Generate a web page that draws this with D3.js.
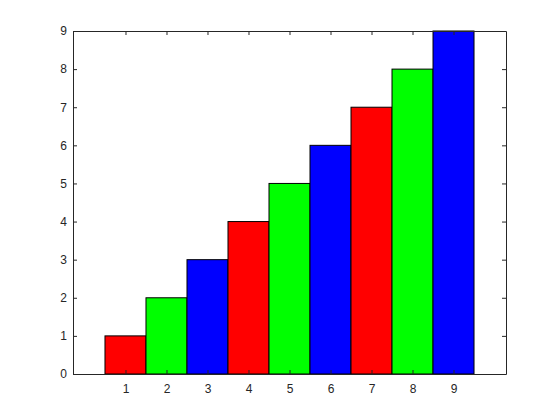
<!DOCTYPE html>
<html>
<head>
<meta charset="utf-8">
<script src="https://cdn.jsdelivr.net/npm/d3@7"></script>
<style>
  body { margin: 0; background: #fff; }
  text { font-family: "Liberation Sans", Arial, sans-serif; font-size: 12px; fill: #262626; }
</style>
</head>
<body>
<div class="chart"></div>
<script>
const width = 560;
const height = 420;

// data
const categories = [1, 2, 3, 4, 5, 6, 7, 8, 9];
const values = [1, 2, 3, 4, 5, 6, 7, 8, 9];
const barColors = ["#ff0000", "#00ff00", "#0000ff"];
const yTicks = [0, 1, 2, 3, 4, 5, 6, 7, 8, 9];

// plot box
const plotLeft = 73, plotRight = 506, plotTop = 31, plotBottom = 374;

const svg = d3.select(".chart")
    .append("svg")
    .attr("width", width)
    .attr("height", height);

const x = d3.scaleLinear().domain([-0.28, 10.28]).range([plotLeft, plotRight]);
const y = d3.scaleLinear().domain([0, 9]).range([plotBottom, plotTop]);

// bars (full width, edges touching)
svg.append("g")
    .selectAll("rect")
    .data(categories)
    .join("rect")
    .attr("x", (d) => x(d - 0.5))
    .attr("width", (d) => x(d + 0.5) - x(d - 0.5))
    .attr("y", (d, i) => y(values[i]))
    .attr("height", (d, i) => y(0) - y(values[i]))
    .attr("fill", (d, i) => barColors[i % 3])
    .attr("stroke", "#000")
    .attr("stroke-width", 1);

// axes, ticks inward, box on
const axisColor = "#262626";
const tk = 4;

const gx = svg.append("g").attr("transform", `translate(0,${plotBottom})`)
    .call(d3.axisBottom(x).tickValues(categories).tickSizeInner(-tk).tickSizeOuter(0).tickPadding(10));
const gxTop = svg.append("g").attr("transform", `translate(0,${plotTop})`)
    .call(d3.axisTop(x).tickValues(categories).tickSizeInner(-tk).tickSizeOuter(0).tickFormat(""));
const gy = svg.append("g").attr("transform", `translate(${plotLeft},0)`)
    .call(d3.axisLeft(y).tickValues(yTicks).tickSizeInner(-tk).tickSizeOuter(0).tickPadding(6));
const gyRight = svg.append("g").attr("transform", `translate(${plotRight},0)`)
    .call(d3.axisRight(y).tickValues(yTicks).tickSizeInner(-tk).tickSizeOuter(0).tickFormat(""));

[gx, gxTop, gy, gyRight].forEach(g => {
    g.select(".domain").attr("stroke", axisColor);
    g.selectAll(".tick line").attr("stroke", axisColor);
    g.selectAll("text").attr("fill", axisColor).style("font-size", "12px")
        .style("font-family", "Liberation Sans, Arial, sans-serif");
});
</script>
</body>
</html>
